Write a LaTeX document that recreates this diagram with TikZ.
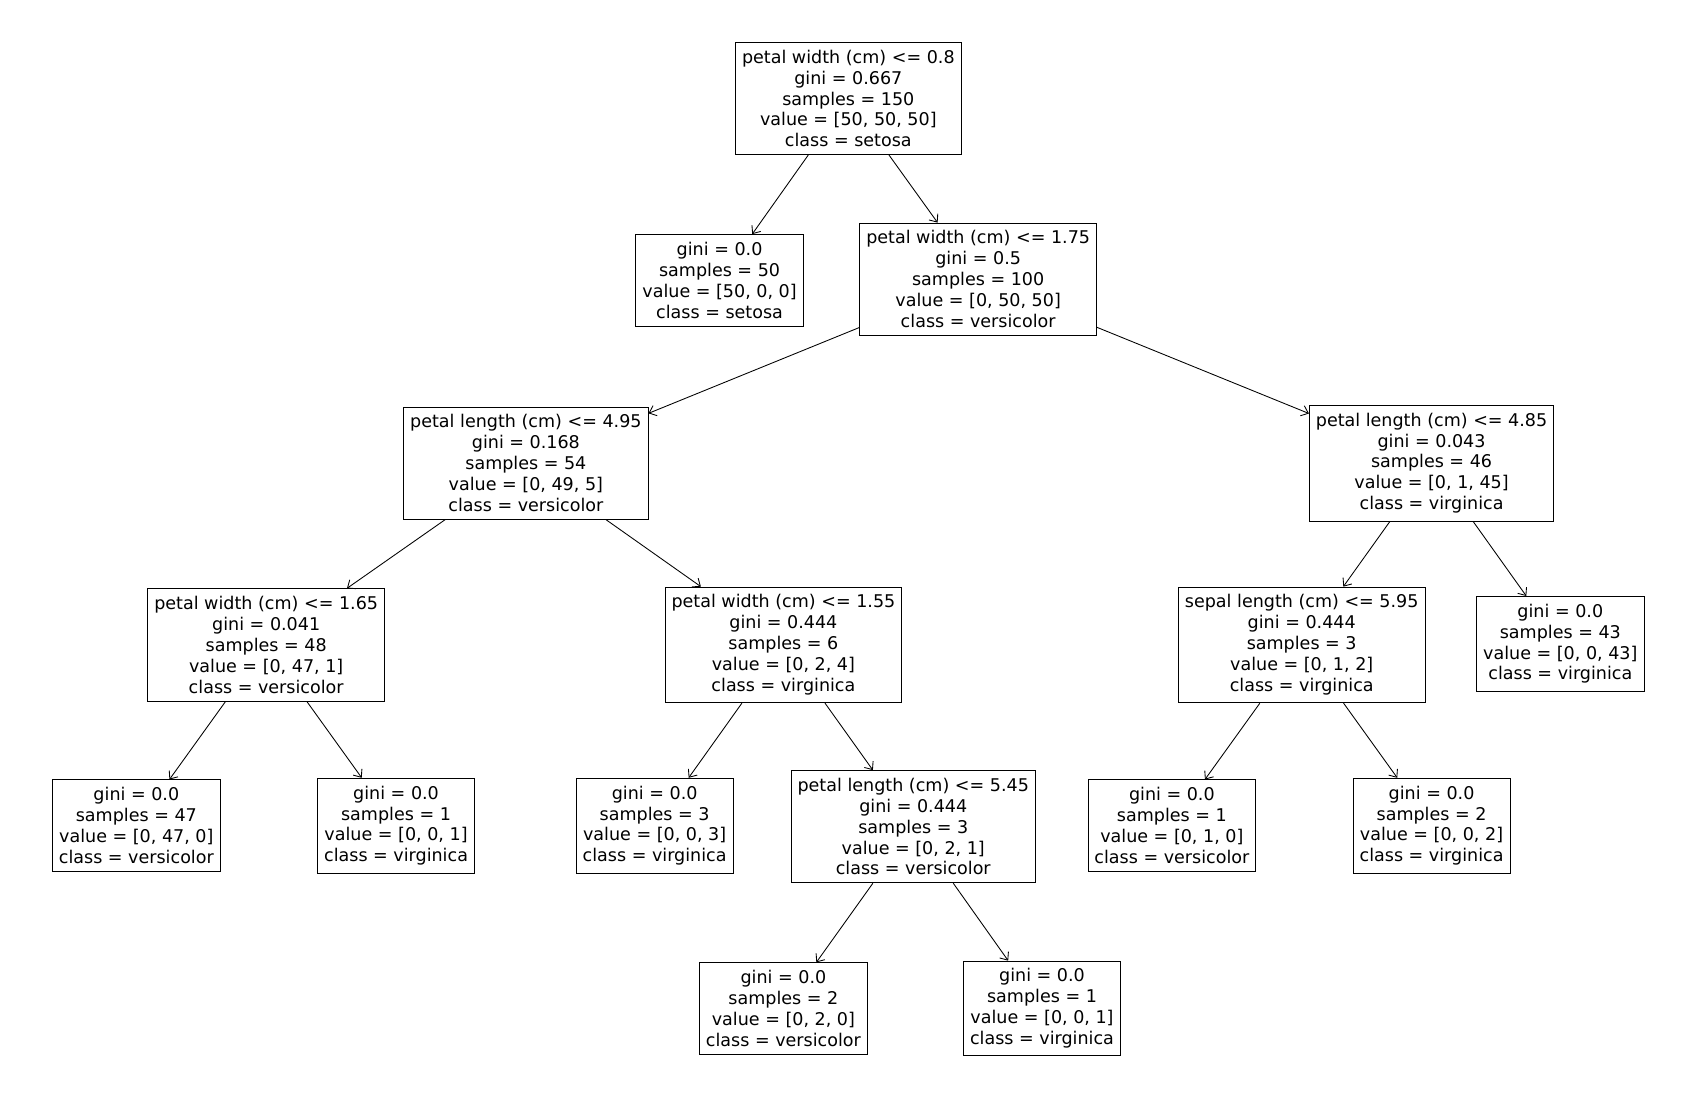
\documentclass[tikz,border=0pt]{standalone}
\usepackage{fontspec}
\setmainfont{DejaVu Sans}
\usetikzlibrary{arrows.meta}
\begin{document}
\begin{tikzpicture}[x=0.5pt,y=-0.5pt,
  tn/.style={draw,line width=0.4pt,align=center,inner xsep=3pt,inner ysep=3.5pt,font=\fontsize{8.1}{9.65}\selectfont},
  ed/.style={-{Straight Barb[length=3pt,width=5pt]},line width=0.4pt,shorten >=0pt}]
\useasboundingbox (0,0) rectangle (1560,1017);
\node[tn] (n1) at (784,91) {petal width (cm) <= 0.8\\gini = 0.667\\samples = 150\\value = [50, 50, 50]\\class = setosa};
\node[tn] (n2) at (665,259) {gini = 0.0\\samples = 50\\value = [50, 0, 0]\\class = setosa};
\node[tn] (n3) at (904,258) {petal width (cm) <= 1.75\\gini = 0.5\\samples = 100\\value = [0, 50, 50]\\class = versicolor};
\node[tn] (n4) at (486,428) {petal length (cm) <= 4.95\\gini = 0.168\\samples = 54\\value = [0, 49, 5]\\class = versicolor};
\node[tn] (n5) at (1323,428) {petal length (cm) <= 4.85\\gini = 0.043\\samples = 46\\value = [0, 1, 45]\\class = virginica};
\node[tn] (n6) at (246,596) {petal width (cm) <= 1.65\\gini = 0.041\\samples = 48\\value = [0, 47, 1]\\class = versicolor};
\node[tn] (n7) at (724,596) {petal width (cm) <= 1.55\\gini = 0.444\\samples = 6\\value = [0, 2, 4]\\class = virginica};
\node[tn] (n8) at (1203,596) {sepal length (cm) <= 5.95\\gini = 0.444\\samples = 3\\value = [0, 1, 2]\\class = virginica};
\node[tn] (n9) at (1442,595) {gini = 0.0\\samples = 43\\value = [0, 0, 43]\\class = virginica};
\node[tn] (n10) at (126,763) {gini = 0.0\\samples = 47\\value = [0, 47, 0]\\class = versicolor};
\node[tn] (n11) at (366,763) {gini = 0.0\\samples = 1\\value = [0, 0, 1]\\class = virginica};
\node[tn] (n12) at (605,763) {gini = 0.0\\samples = 3\\value = [0, 0, 3]\\class = virginica};
\node[tn] (n13) at (844,764) {petal length (cm) <= 5.45\\gini = 0.444\\samples = 3\\value = [0, 2, 1]\\class = versicolor};
\node[tn] (n14) at (1083,763) {gini = 0.0\\samples = 1\\value = [0, 1, 0]\\class = versicolor};
\node[tn] (n15) at (1323,763) {gini = 0.0\\samples = 2\\value = [0, 0, 2]\\class = virginica};
\node[tn] (n16) at (724,932) {gini = 0.0\\samples = 2\\value = [0, 2, 0]\\class = versicolor};
\node[tn] (n17) at (963,932) {gini = 0.0\\samples = 1\\value = [0, 0, 1]\\class = virginica};
\draw[ed] (n1) -- (n2);
\draw[ed] (n1) -- (n3);
\draw[ed] (n3) -- (n4);
\draw[ed] (n3) -- (n5);
\draw[ed] (n4) -- (n6);
\draw[ed] (n4) -- (n7);
\draw[ed] (n5) -- (n8);
\draw[ed] (n5) -- (n9);
\draw[ed] (n6) -- (n10);
\draw[ed] (n6) -- (n11);
\draw[ed] (n7) -- (n12);
\draw[ed] (n7) -- (n13);
\draw[ed] (n8) -- (n14);
\draw[ed] (n8) -- (n15);
\draw[ed] (n13) -- (n16);
\draw[ed] (n13) -- (n17);
\end{tikzpicture}
\end{document}
